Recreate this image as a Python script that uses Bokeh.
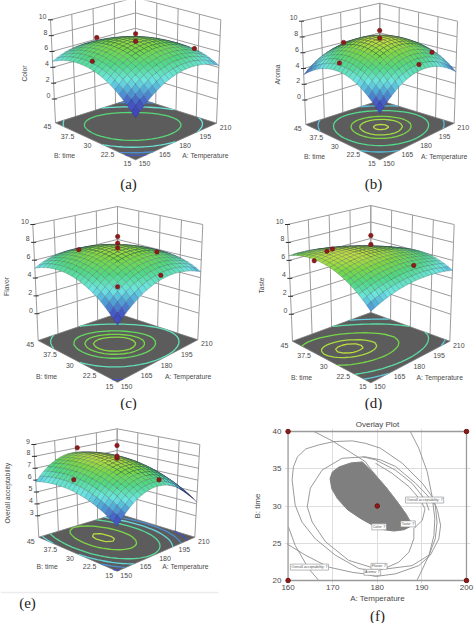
import numpy as np
from bokeh.plotting import figure
from bokeh.layouts import column, row
from bokeh.models import Range1d, ColumnDataSource, FixedTicker, Title
from bokeh.core.properties import value
from bokeh.embed import file_html
from bokeh.resources import INLINE

TEMP_TICKS = [150, 165, 180, 195, 210]
TIME_TICKS = [15, 22.5, 30, 37.5, 45]
TEMP_GRID = [150,153,156,159,162,165,168,171,174,177,180,183,186,189,192,195,198,201,204,207,210]
TIME_GRID = [15,16.5,18,19.5,21,22.5,24,25.5,27,28.5,30,31.5,33,34.5,36,37.5,39,40.5,42,43.5,45]

COLOR_Z = [
[2.00,2.53,3.02,3.46,3.86,4.21,4.52,4.79,5.01,5.19,5.33,5.42,5.46,5.46,5.42,5.34,5.21,5.03,4.82,4.56,4.25],
[2.57,3.08,3.56,3.99,4.37,4.71,5.01,5.27,5.48,5.64,5.77,5.84,5.88,5.87,5.81,5.72,5.57,5.39,5.16,4.88,4.57],
[3.09,3.59,4.05,4.47,4.84,5.17,5.46,5.70,5.90,6.05,6.16,6.23,6.25,6.22,6.16,6.05,5.89,5.69,5.45,5.17,4.84],
[3.56,4.05,4.50,4.91,5.27,5.58,5.86,6.09,6.27,6.41,6.51,6.56,6.57,6.54,6.46,6.34,6.17,5.96,5.70,5.40,5.06],
[3.99,4.47,4.91,5.30,5.65,5.95,6.21,6.43,6.60,6.73,6.82,6.86,6.85,6.80,6.71,6.58,6.40,6.18,5.91,5.60,5.24],
[4.38,4.84,5.27,5.65,5.98,6.27,6.52,6.73,6.89,7.00,7.08,7.10,7.09,7.03,6.92,6.78,6.58,6.35,6.07,5.74,5.38],
[4.72,5.17,5.58,5.95,6.27,6.55,6.79,6.98,7.13,7.23,7.29,7.31,7.28,7.20,7.09,6.93,6.72,6.47,6.18,5.85,5.47],
[5.01,5.45,5.85,6.21,6.52,6.78,7.01,7.19,7.32,7.41,7.46,7.46,7.42,7.34,7.21,7.03,6.82,6.56,6.25,5.90,5.51],
[5.26,5.69,6.08,6.42,6.72,6.97,7.18,7.35,7.47,7.55,7.59,7.58,7.52,7.42,7.28,7.10,6.87,6.59,6.28,5.91,5.51],
[5.47,5.88,6.26,6.59,6.87,7.11,7.31,7.47,7.58,7.64,7.67,7.64,7.58,7.47,7.31,7.11,6.87,6.59,6.26,5.88,5.47],
[5.63,6.03,6.39,6.71,6.98,7.21,7.40,7.54,7.64,7.69,7.70,7.67,7.59,7.46,7.30,7.09,6.83,6.53,6.19,5.81,5.38],
[5.74,6.13,6.48,6.79,7.05,7.26,7.44,7.57,7.65,7.69,7.69,7.64,7.55,7.42,7.24,7.01,6.75,6.44,6.08,5.68,5.24],
[5.81,6.19,6.53,6.82,7.07,7.27,7.43,7.56,7.62,7.65,7.64,7.58,7.47,7.32,7.13,6.90,6.62,6.30,5.93,5.52,5.06],
[5.84,6.20,6.53,6.81,7.04,7.23,7.38,7.49,7.55,7.56,7.54,7.46,7.35,7.19,6.98,6.73,6.44,6.11,5.73,5.30,4.84],
[5.82,6.17,6.48,6.75,6.97,7.16,7.29,7.39,7.43,7.43,7.39,7.31,7.18,7.00,6.79,6.53,6.22,5.87,5.48,5.05,4.57],
[5.75,6.09,6.39,6.65,6.86,7.02,7.15,7.23,7.26,7.25,7.20,7.10,6.96,6.78,6.55,6.27,5.96,5.60,5.19,4.74,4.25],
[5.64,5.97,6.26,6.51,6.70,6.85,6.96,7.03,7.05,7.03,6.97,6.86,6.70,6.50,6.26,5.98,5.65,5.27,4.86,4.40,3.89],
[5.49,5.80,6.08,6.31,6.49,6.64,6.73,6.79,6.80,6.76,6.69,6.56,6.40,6.19,5.93,5.63,5.29,4.91,4.48,4.00,3.49],
[5.29,5.59,5.85,6.07,6.24,6.37,6.46,6.50,6.50,6.45,6.36,6.23,6.05,5.82,5.56,5.25,4.89,4.49,4.05,3.57,3.04],
[5.04,5.33,5.58,5.79,5.95,6.07,6.14,6.17,6.15,6.09,5.99,5.84,5.65,5.42,5.14,4.82,4.45,4.04,3.58,3.08,2.54],
[4.75,5.03,5.27,5.46,5.61,5.72,5.77,5.79,5.76,5.69,5.58,5.42,5.21,4.96,4.67,4.34,3.96,3.53,3.07,2.56,2.00]]
AROMA_Z = [
[2.45,3.01,3.51,3.96,4.36,4.70,4.99,5.23,5.41,5.55,5.63,5.65,5.62,5.54,5.41,5.23,4.99,4.69,4.35,3.95,3.50],
[2.99,3.54,4.04,4.49,4.88,5.22,5.51,5.74,5.92,6.05,6.12,6.14,6.11,6.03,5.89,5.70,5.46,5.16,4.81,4.41,3.95],
[3.48,4.03,4.52,4.96,5.35,5.68,5.97,6.20,6.37,6.49,6.56,6.58,6.55,6.46,6.31,6.12,5.87,5.57,5.22,4.81,4.35],
[3.91,4.46,4.95,5.38,5.77,6.10,6.37,6.60,6.77,6.89,6.95,6.97,6.93,6.83,6.69,6.49,6.23,5.93,5.57,5.16,4.69],
[4.30,4.83,5.32,5.75,6.13,6.46,6.73,6.95,7.12,7.23,7.29,7.30,7.25,7.16,7.01,6.80,6.54,6.23,5.87,5.46,4.99],
[4.63,5.16,5.64,6.07,6.44,6.76,7.03,7.25,7.41,7.52,7.58,7.58,7.53,7.43,7.27,7.06,6.80,6.49,6.12,5.70,5.23],
[4.90,5.43,5.91,6.33,6.70,7.02,7.28,7.49,7.65,7.75,7.81,7.81,7.75,7.64,7.48,7.27,7.01,6.69,6.31,5.89,5.41],
[5.12,5.65,6.12,6.54,6.90,7.22,7.48,7.68,7.84,7.94,7.98,7.98,7.92,7.81,7.64,7.43,7.16,6.83,6.46,6.03,5.54],
[5.29,5.81,6.28,6.70,7.06,7.36,7.62,7.82,7.97,8.07,8.11,8.10,8.04,7.92,7.75,7.53,7.25,6.93,6.55,6.11,5.62],
[5.41,5.93,6.39,6.80,7.16,7.46,7.71,7.91,8.05,8.14,8.18,8.17,8.10,7.98,7.80,7.58,7.30,6.97,6.58,6.14,5.65],
[5.48,5.97,6.44,6.85,7.20,7.50,7.75,7.94,8.08,8.17,8.20,8.18,8.11,7.98,7.81,7.58,7.29,6.95,6.56,6.12,5.63],
[5.49,5.99,6.45,6.85,7.19,7.49,7.73,7.92,8.05,8.14,8.17,8.14,8.07,7.94,7.75,7.52,7.23,6.89,6.49,6.05,5.55],
[5.44,5.95,6.40,6.79,7.13,7.42,7.66,7.85,7.98,8.05,8.08,8.05,7.97,7.84,7.65,7.41,7.12,6.77,6.37,5.92,5.41],
[5.35,5.85,6.29,6.68,7.02,7.31,7.54,7.72,7.85,7.92,7.94,7.91,7.82,7.68,7.49,7.25,6.95,6.60,6.20,5.74,5.23],
[5.20,5.69,6.13,6.52,6.86,7.14,7.36,7.54,7.66,7.73,7.75,7.71,7.62,7.48,7.28,7.03,6.73,6.37,5.97,5.50,4.99],
[5.00,5.49,5.92,6.31,6.64,6.91,7.14,7.31,7.42,7.49,7.50,7.46,7.36,7.22,7.02,6.76,6.46,6.10,5.68,5.22,4.70],
[4.75,5.23,5.66,6.04,6.36,6.64,6.86,7.02,7.13,7.19,7.20,7.16,7.06,6.91,6.70,6.44,6.13,5.77,5.35,4.88,4.36],
[4.44,4.92,5.35,5.72,6.04,6.31,6.52,6.68,6.79,6.85,6.85,6.80,6.70,6.54,6.33,6.07,5.75,5.38,4.96,4.49,3.96],
[4.08,4.55,4.98,5.35,5.66,5.92,6.13,6.29,6.40,6.45,6.44,6.39,6.28,6.12,5.91,5.64,5.32,4.95,4.52,4.04,3.51],
[3.67,4.14,4.55,4.92,5.23,5.49,5.69,5.85,5.95,5.99,5.99,5.93,5.81,5.65,5.43,5.16,4.83,4.46,4.03,3.54,3.01],
[3.20,3.67,4.08,4.44,4.75,5.00,5.20,5.35,5.44,5.49,5.48,5.41,5.29,5.12,4.90,4.63,4.30,3.91,3.48,2.99,2.45]]
FLAVOR_Z = [
[3.01,3.45,3.86,4.23,4.56,4.85,5.10,5.32,5.50,5.64,5.74,5.80,5.83,5.82,5.77,5.68,5.55,5.39,5.19,4.95,4.67],
[3.48,3.91,4.31,4.67,4.99,5.27,5.51,5.72,5.89,6.02,6.11,6.17,6.18,6.16,6.10,6.01,5.87,5.70,5.49,5.24,4.95],
[3.90,4.33,4.72,5.07,5.38,5.65,5.89,6.08,6.24,6.36,6.45,6.49,6.50,6.47,6.40,6.29,6.15,5.97,5.74,5.48,5.19],
[4.29,4.71,5.09,5.43,5.73,5.99,6.22,6.41,6.56,6.67,6.74,6.78,6.78,6.74,6.66,6.54,6.39,6.19,5.96,5.70,5.39],
[4.65,5.05,5.42,5.75,6.04,6.30,6.51,6.69,6.83,6.94,7.00,7.03,7.02,6.97,6.88,6.75,6.59,6.39,6.15,5.87,5.55],
[4.96,5.36,5.72,6.04,6.32,6.57,6.77,6.94,7.07,7.17,7.22,7.24,7.22,7.16,7.06,6.92,6.75,6.54,6.29,6.00,5.68],
[5.24,5.62,5.97,6.29,6.56,6.79,6.99,7.15,7.27,7.36,7.40,7.41,7.38,7.31,7.20,7.06,6.88,6.66,6.40,6.10,5.77],
[5.47,5.85,6.19,6.50,6.76,6.99,7.17,7.32,7.44,7.51,7.55,7.54,7.50,7.43,7.31,7.16,6.97,6.73,6.47,6.16,5.82],
[5.67,6.04,6.37,6.67,6.92,7.14,7.32,7.46,7.56,7.63,7.65,7.63,7.59,7.50,7.38,7.22,7.02,6.78,6.50,6.18,5.83],
[5.84,6.20,6.52,6.80,7.05,7.25,7.42,7.55,7.65,7.70,7.72,7.70,7.64,7.54,7.41,7.24,7.03,6.78,6.49,6.17,5.80],
[5.96,6.31,6.62,6.90,7.13,7.33,7.49,7.61,7.70,7.74,7.75,7.72,7.65,7.55,7.40,7.22,7.00,6.74,6.45,6.11,5.74],
[6.05,6.39,6.69,6.95,7.18,7.37,7.52,7.63,7.71,7.74,7.74,7.70,7.63,7.52,7.36,7.17,6.94,6.67,6.36,6.02,5.64],
[6.09,6.43,6.72,6.97,7.19,7.37,7.51,7.61,7.68,7.71,7.70,7.65,7.56,7.44,7.27,7.07,6.83,6.56,6.24,5.89,5.50],
[6.10,6.43,6.71,6.96,7.16,7.33,7.47,7.56,7.61,7.63,7.61,7.55,7.46,7.32,7.15,6.94,6.69,6.41,6.08,5.72,5.32],
[6.08,6.39,6.66,6.90,7.10,7.26,7.38,7.47,7.51,7.52,7.49,7.42,7.32,7.17,6.99,6.77,6.51,6.22,5.89,5.51,5.10],
[6.01,6.31,6.58,6.81,7.00,7.15,7.26,7.33,7.37,7.37,7.33,7.25,7.14,6.99,6.79,6.57,6.30,5.99,5.65,5.27,4.85],
[5.91,6.20,6.46,6.67,6.85,6.99,7.10,7.16,7.19,7.18,7.13,7.05,6.92,6.76,6.56,6.32,6.04,5.73,5.38,4.99,4.56],
[5.76,6.05,6.29,6.50,6.67,6.81,6.90,6.96,6.97,6.95,6.90,6.80,6.67,6.49,6.28,6.04,5.75,5.43,5.07,4.67,4.23],
[5.58,5.86,6.10,6.29,6.46,6.58,6.66,6.71,6.72,6.69,6.62,6.52,6.37,6.19,5.97,5.72,5.42,5.09,4.72,4.31,3.86],
[5.37,5.63,5.86,6.05,6.20,6.31,6.39,6.43,6.43,6.39,6.31,6.20,6.04,5.85,5.62,5.36,5.05,4.71,4.33,3.91,3.45],
[5.11,5.36,5.58,5.76,5.91,6.01,6.08,6.10,6.09,6.05,5.96,5.84,5.67,5.47,5.24,4.96,4.65,4.29,3.90,3.48,3.01]]
TASTE_Z = [
[4.48,4.67,4.85,5.00,5.14,5.26,5.36,5.45,5.51,5.56,5.59,5.60,5.60,5.57,5.53,5.47,5.39,5.29,5.18,5.05,4.90],
[4.91,5.09,5.26,5.40,5.53,5.65,5.74,5.82,5.87,5.91,5.94,5.94,5.93,5.89,5.84,5.77,5.69,5.58,5.46,5.32,5.16],
[5.30,5.48,5.63,5.77,5.89,6.00,6.08,6.15,6.20,6.23,6.25,6.24,6.22,6.18,6.12,6.05,5.95,5.84,5.71,5.56,5.40],
[5.66,5.82,5.97,6.11,6.22,6.32,6.39,6.45,6.49,6.52,6.52,6.51,6.48,6.43,6.37,6.28,6.18,6.06,5.92,5.77,5.59],
[5.98,6.14,6.28,6.41,6.51,6.60,6.67,6.72,6.75,6.77,6.77,6.75,6.71,6.65,6.58,6.49,6.38,6.25,6.10,5.94,5.76],
[6.27,6.42,6.56,6.67,6.77,6.85,6.91,6.95,6.98,6.99,6.98,6.95,6.90,6.84,6.76,6.66,6.54,6.40,6.25,6.08,5.89],
[6.52,6.67,6.79,6.90,6.99,7.06,7.12,7.15,7.17,7.17,7.15,7.12,7.06,6.99,6.90,6.79,6.66,6.52,6.36,6.18,5.98],
[6.75,6.88,7.00,7.10,7.18,7.25,7.29,7.32,7.33,7.32,7.29,7.25,7.19,7.11,7.01,6.89,6.76,6.61,6.44,6.25,6.04],
[6.93,7.06,7.17,7.26,7.34,7.39,7.43,7.45,7.45,7.44,7.40,7.35,7.28,7.19,7.08,6.96,6.82,6.66,6.48,6.28,6.07],
[7.09,7.21,7.31,7.39,7.46,7.51,7.54,7.55,7.54,7.52,7.48,7.41,7.34,7.24,7.13,7.00,6.84,6.68,6.49,6.29,6.06],
[7.21,7.32,7.41,7.49,7.55,7.59,7.61,7.61,7.60,7.56,7.51,7.45,7.36,7.26,7.13,6.99,6.84,6.66,6.46,6.25,6.02],
[7.29,7.40,7.48,7.55,7.60,7.63,7.64,7.64,7.62,7.58,7.52,7.44,7.35,7.24,7.11,6.96,6.79,6.61,6.41,6.19,5.95],
[7.34,7.44,7.52,7.58,7.62,7.64,7.65,7.64,7.61,7.56,7.49,7.41,7.31,7.20,7.05,6.89,6.72,6.52,6.31,6.09,5.84],
[7.36,7.45,7.52,7.57,7.60,7.62,7.62,7.60,7.56,7.50,7.43,7.34,7.23,7.10,6.95,6.79,6.60,6.40,6.19,5.95,5.70],
[7.34,7.42,7.49,7.53,7.56,7.56,7.55,7.53,7.48,7.41,7.33,7.23,7.11,6.98,6.82,6.65,6.46,6.25,6.03,5.78,5.52],
[7.29,7.37,7.42,7.45,7.47,7.47,7.45,7.42,7.36,7.29,7.20,7.09,6.97,6.82,6.66,6.48,6.28,6.07,5.83,5.58,5.31],
[7.21,7.27,7.32,7.35,7.36,7.35,7.32,7.28,7.21,7.13,7.04,6.92,6.79,6.63,6.46,6.28,6.07,5.84,5.60,5.34,5.06],
[7.09,7.15,7.18,7.20,7.21,7.19,7.16,7.10,7.03,6.94,6.84,6.71,6.57,6.41,6.23,6.04,5.82,5.59,5.34,5.07,4.79],
[6.94,6.99,7.02,7.03,7.02,7.00,6.95,6.89,6.82,6.72,6.61,6.47,6.32,6.15,5.97,5.76,5.54,5.30,5.04,4.77,4.47],
[6.75,6.79,6.81,6.82,6.80,6.77,6.72,6.65,6.57,6.46,6.34,6.20,6.04,5.86,5.67,5.46,5.23,4.98,4.71,4.43,4.13],
[6.53,6.56,6.58,6.57,6.55,6.51,6.45,6.38,6.28,6.17,6.04,5.89,5.72,5.54,5.34,5.12,4.88,4.62,4.35,4.05,3.75]]
OVERALL_Z = [
[4.78,5.18,5.54,5.86,6.13,6.35,6.52,6.65,6.74,6.78,6.77,6.71,6.61,6.47,6.28,6.04,5.75,5.42,5.05,4.63,4.16],
[5.00,5.40,5.76,6.08,6.34,6.56,6.74,6.87,6.95,6.99,6.98,6.92,6.82,6.67,6.48,6.24,5.96,5.62,5.25,4.82,4.36],
[5.20,5.61,5.97,6.28,6.54,6.76,6.94,7.06,7.15,7.18,7.17,7.11,7.01,6.86,6.67,6.43,6.14,5.81,5.43,5.00,4.54],
[5.39,5.79,6.15,6.46,6.72,6.94,7.11,7.24,7.32,7.36,7.34,7.29,7.18,7.03,6.84,6.60,6.31,5.98,5.60,5.17,4.70],
[5.56,5.96,6.32,6.63,6.89,7.11,7.28,7.40,7.48,7.51,7.50,7.44,7.34,7.19,6.99,6.75,6.46,6.12,5.74,5.31,4.84],
[5.71,6.11,6.47,6.77,7.04,7.25,7.42,7.55,7.62,7.66,7.64,7.58,7.47,7.32,7.12,6.88,6.59,6.24,5.87,5.44,4.97],
[5.85,6.24,6.60,6.90,7.16,7.38,7.55,7.67,7.75,7.78,7.76,7.70,7.59,7.44,7.24,6.99,6.71,6.37,5.98,5.56,5.08],
[5.96,6.36,6.71,7.02,7.28,7.49,7.66,7.78,7.86,7.88,7.87,7.81,7.69,7.54,7.34,7.10,6.80,6.46,6.08,5.65,5.17],
[6.06,6.46,6.81,7.11,7.37,7.58,7.74,7.87,7.94,7.97,7.95,7.89,7.78,7.62,7.42,7.18,6.88,6.54,6.16,5.72,5.25],
[6.14,6.54,6.89,7.19,7.45,7.66,7.82,7.94,8.02,8.04,8.02,7.96,7.85,7.69,7.49,7.24,6.94,6.60,6.22,5.78,5.31],
[6.21,6.60,6.95,7.25,7.51,7.72,7.88,8.00,8.07,8.10,8.08,8.01,7.90,7.74,7.54,7.29,6.99,6.65,6.26,5.83,5.35],
[6.25,6.64,6.99,7.29,7.55,7.76,7.92,8.04,8.11,8.13,8.11,8.04,7.93,7.77,7.57,7.31,7.02,6.67,6.28,5.85,5.37],
[6.28,6.67,7.02,7.32,7.57,7.78,7.94,8.06,8.12,8.15,8.13,8.06,7.94,7.78,7.58,7.32,7.03,6.68,6.29,5.85,5.37],
[6.29,6.68,7.03,7.32,7.58,7.78,7.94,8.06,8.13,8.15,8.12,8.05,7.94,7.78,7.57,7.32,7.02,6.67,6.28,5.84,5.36],
[6.28,6.67,7.02,7.31,7.56,7.77,7.93,8.04,8.11,8.13,8.11,8.03,7.92,7.75,7.55,7.29,6.99,6.64,6.25,5.81,5.33],
[6.26,6.65,6.99,7.28,7.53,7.74,7.90,8.01,8.07,8.10,8.07,8.00,7.88,7.72,7.51,7.25,6.95,6.60,6.21,5.77,5.28],
[6.22,6.60,6.95,7.24,7.49,7.69,7.85,7.96,8.02,8.04,8.02,7.94,7.82,7.66,7.45,7.19,6.89,6.54,6.14,5.70,5.21],
[6.16,6.54,6.88,7.18,7.42,7.62,7.78,7.89,7.95,7.97,7.94,7.87,7.75,7.58,7.37,7.11,6.81,6.46,6.06,5.62,5.13],
[6.08,6.46,6.80,7.09,7.34,7.54,7.70,7.80,7.87,7.88,7.85,7.78,7.66,7.49,7.28,7.02,6.71,6.36,5.96,5.52,5.03],
[5.99,6.37,6.71,7.00,7.24,7.44,7.59,7.70,7.76,7.78,7.75,7.67,7.55,7.38,7.17,6.90,6.60,6.24,5.84,5.40,4.91],
[5.87,6.25,6.59,6.88,7.12,7.32,7.48,7.58,7.64,7.66,7.62,7.54,7.42,7.25,7.04,6.77,6.47,6.11,5.71,5.27,4.77]]

COLOR_PTS = ([164.4,166.2,180,180,201],[37.8,36.9,30,30,19.5],[5.0,8.0,8.53,7.6,6.54])
AROMA_PTS = ([166,164.2,180,180,195.4,200.4],[37,37.9,30,30,22.3,19.8],[7.6,4.96,9.2,8.23,4.74,6.24])
FLAVOR_PTS = ([166,180,180,180,194,195.6,160],[36.9,30,30,30,23,22.2,20],[7.53,9.1,8.36,7.8,7.27,4.6,5.8])
TASTE_PTS = ([164,166,180,180,195.8,159.3],[38,37,30,30,22.2,40.4],[7.32,7.59,9.2,8.19,5.72,6.17])
OVERALL_PTS = ([165.7,164.1,180,180,180,195.5],[37.2,38,30,30,30,22.2],[8.94,6.22,9.2,8.12,8.29,6.22])

COLOR_LEVELS = [3.3,4.0,5.3,6.55]
AROMA_LEVELS = [4.7,6.2,7.4,7.8,8.15]
FLAVOR_LEVELS = [3.6,5.9,7.0,7.35,7.55]
TASTE_LEVELS = [5.2,6.0,7.0,7.45,7.6]
OVERALL_LEVELS = [5.0,5.6,6.2,6.85,7.7,8.1]

Z_TICKS_10 = [0,2,4,6,8,10]
Z_TICKS_9 = [3,4,5,6,7,8,9]

GRAY_A = [176.67,179.29,181.91,184.52,186.39,187.89,186.02,183.78,181.53,179.29,176.3,173.31,171.07,169.79,169.42,169.94,171.44,174.06]
GRAY_B = [35.92,34.35,32.56,30.54,28.97,27.4,26.82,26.64,26.82,27.31,28.3,29.51,30.99,32.33,33.68,34.57,35.25,35.78]
CURVES_A = [
 [159.8,163.9,169.1,174.4,177.0,179.6,184.1,189.3,191.9,193.8,194.2,193.5,192.3,190.1,185.6,180.7,177.4,174.4,170.3,166.9,164.0,162.1,161.2,160.9,161.6,163.1,166.1,170.6,175.9,179.6,181.8,184.8,187.1,188.2,188.2,190.1,190.7,189.7,187.1,183.3,179.6],
 [164.3,165.0,167.6,172.1,177.3,180.7,184.1,188.6,191.9,193.0,193.4,193.0,191.6,187.8,182.6,178.5,173.6,168.4,165.4,164.3],
 [187.4,189.3,191.2,192.3,192.9,192.7,191.6,188.9],
 [165.8,169.9,177.3,179.3,181.9,184.5,186.4,187.9],
 [160.1,161.6,164.6,166.9],
 [176.7,179.6,184.1,187.8,190.8,191.6]]
CURVES_B = [
 [24.9,23.4,21.8,21.1,20.9,20.54,20.9,22.0,23.4,25.6,27.4,29.42,31.26,33.05,35.74,37.76,38.4,38.74,38.65,38.2,37.67,36.6,35.25,33.5,30.1,27.85,25.6,23.4,21.6,21.3,21.66,22.46,23.8,25.6,26.95,28.1,29.6,30.8,32.6,34.4,35.74],
 [29.9,32.4,34.8,36.4,36.6,36.2,35.3,33.05,31.0,30.1,27.85,25.6,23.4,22.0,21.6,21.8,22.7,25.2,27.85,29.9],
 [40,37.76,34.6,31.26,28.3,26.05,23.4,20],
 [40,38.74,35.96,34.35,32.56,30.54,28.97,27.4],
 [27.17,24.7,21.6,20],
 [36.6,36.2,34.8,33.05,30.8,29.4]]
DESIGN_A = [160,200,160,200,180]
DESIGN_B = [40,40,20,20,30]
LABEL_TEXT = ["Overall acceptability: 7","Taste: 7","Color: 7","Flavor: 7","Aroma: 7","Overall acceptability: 7"]
LABEL_A = [190.6,186.9,180.4,180.4,178.9,164.8]
LABEL_B = [30.8,27.6,27.2,21.9,21.1,21.8]

STOPS = [(0.0,(62,58,178)),(0.2,(70,90,195)),(0.36,(80,170,215)),(0.48,(110,230,225)),(0.66,(80,215,130)),(0.82,(120,215,70)),(1.0,(225,225,60))]
def cmap(t):
    t = min(1.0, max(0.0, t))
    for (t0,c0),(t1,c1) in zip(STOPS, STOPS[1:]):
        if t <= t1:
            f = (t-t0)/(t1-t0)
            return "#%02x%02x%02x" % tuple(int(round(a+(b-a)*f)) for a,b in zip(c0,c1))
    return "#e1e13c"

SANS = value("Liberation Sans")
SERIF = value("Liberation Serif")
TXT = "#4a4a4a"

def new_fig(w, h, xr, yr):
    p = figure(width=w, height=h, x_range=Range1d(*xr), y_range=Range1d(*yr),
               x_axis_type=None, y_axis_type=None, toolbar_location=None,
               output_backend="svg", min_border=0, outline_line_color=None,
               background_fill_color="white", border_fill_color="white", frame_align=False)
    p.grid.visible = False
    return p

def surface_panel(w, h, xr, yr, F, R, L, K, TF, TR, TL, TK, zfloor, zmax, ztop_ticks, table, pts, levels, zlo, zhi, zname, zpos, bpos, apos, tag, tagpos):
    p = new_fig(w, h, xr, yr)
    def proj(a, b, z):
        a, b, z = np.asarray(a, float), np.asarray(b, float), np.asarray(z, float)
        u = (a-150)/60; v = (b-15)/30; s = (z-zfloor)/(zmax-zfloor)
        out = []
        for i in (0, 1):
            bot = (1-u)*(1-v)*F[i]+u*(1-v)*R[i]+(1-u)*v*L[i]+u*v*K[i]
            top = (1-u)*(1-v)*TF[i]+u*(1-v)*TR[i]+(1-u)*v*TL[i]+u*v*TK[i]
            out.append(bot+(top-bot)*s)
        return out
    wx, wy = [], []
    for z in ztop_ticks:
        x, y = proj([150,210,210],[45,45,15],[z,z,z]); wx.append(list(x)); wy.append(list(y))
    for a in TEMP_TICKS:
        x, y = proj([a,a],[45,45],[zfloor,zmax]); wx.append(list(x)); wy.append(list(y))
    for b in TIME_TICKS:
        x, y = proj([210,210],[b,b],[zfloor,zmax]); wx.append(list(x)); wy.append(list(y))
    p.multi_line(wx, wy, line_color="#9c9c9c", line_width=1)
    tx, ty = proj([150]*len(ztop_ticks),[45]*len(ztop_ticks),ztop_ticks)
    p.scatter(tx, ty, marker="dash", size=5, line_color="#333333")
    fx, fy = proj([150,210,210,150],[15,15,45,45],[zfloor]*4)
    p.patch(fx, fy, fill_color="#5c5c5c", line_color="#777777", line_width=0.8)
    A, B = np.meshgrid(TEMP_GRID, TIME_GRID)
    Z = np.array(table)
    gx, gy = proj(A, B, np.full(A.shape, zfloor))
    p.contour(gx, gy, Z, levels, line_color=[cmap((l-zlo)/(zhi-zlo)) for l in levels], line_width=1.3)
    X, Y = proj(A, B, Z)
    xs, ys, cols, depth = [], [], [], []
    for j in range(Z.shape[0]-1):
        for i in range(Z.shape[1]-1):
            qx = [X[j,i],X[j,i+1],X[j+1,i+1],X[j+1,i]]
            qy = [Y[j,i],Y[j,i+1],Y[j+1,i+1],Y[j+1,i]]
            area = sum(qx[k]*qy[(k+1)%4]-qx[(k+1)%4]*qy[k] for k in range(4))
            m = (Z[j,i]+Z[j,i+1]+Z[j+1,i+1]+Z[j+1,i])/4
            xs.append(qx); ys.append(qy); depth.append(i+j)
            cols.append("#1d1f6e" if area > 0 else cmap((m-zlo)/(zhi-zlo)))
    order = np.argsort(-np.array(depth), kind="stable")
    src = ColumnDataSource(dict(xs=[xs[k] for k in order], ys=[ys[k] for k in order], c=[cols[k] for k in order]))
    p.patches("xs", "ys", source=src, fill_color="c", line_color="#1f2a44", line_alpha=0.38, line_width=0.5)
    px, py = proj(*pts)
    p.scatter(px, py, size=4.5, fill_color="#8c1c1c", line_color="#6a1010", line_width=0.5)
    ax, ay = proj(TEMP_TICKS,[15]*5,[zfloor]*5)
    kw = dict(text_font=SANS, text_font_size="7px", text_color=TXT, text_baseline="middle")
    p.text(ax, ay, text=[str(t) for t in TEMP_TICKS], x_offset=9, y_offset=4, text_align="center", **kw)
    bx, by = proj([150]*5,TIME_TICKS,[zfloor]*5)
    p.text(bx, by, text=[f"{t:g}" for t in TIME_TICKS], x_offset=-8, y_offset=4, text_align="center", **kw)
    p.text(tx, ty, text=[str(t) for t in ztop_ticks], x_offset=-4, y_offset=-3.5, text_align="right", **kw)
    lab = dict(kw, text_font_size="6.8px")
    p.text([bpos[0]],[bpos[1]],text=["B: time"],text_align="center",**lab)
    p.text([apos[0]],[apos[1]],text=["A: Temperature"],text_align="center",**lab)
    p.text([zpos[0]],[zpos[1]],text=[zname],angle=np.pi/2,text_align="center",**lab)
    p.text([tagpos[0]],[tagpos[1]],text=[tag],text_font=SERIF,text_font_size="15px",text_color="#222222",text_align="center",text_baseline="middle")
    return p

W1, W2 = 237, 237
H1, H2, H3 = 200, 210, 213
pa = surface_panel(W1,H1,(0,237),(200,0),(135,159.3),(216,122.7),(55,122.3),(135,97),(135,51),(220.3,19.3),(50,19.3),(135,-3),-3,10,Z_TICKS_10,COLOR_Z,COLOR_PTS,COLOR_LEVELS,2,8.6,"Color",(24,73),(64,155),(205,155),"(a)",(128,183))
pb = surface_panel(W2,H1,(237,474),(200,0),(379.3,159.3),(453.7,122.7),(305.3,124),(379.3,100),(379.3,51),(457,20.7),(301,20.7),(379.3,2.7),-3.1,10,Z_TICKS_10,AROMA_Z,AROMA_PTS,AROMA_LEVELS,2.2,8.5,"Aroma",(277,74),(314,156),(443.7,156),"(b)",(373,183))
pc = surface_panel(W1,H2,(0,237),(410,200),(117,381.7),(197.3,339.3),(37.7,340),(117,313),(117,258.3),(202.3,224),(32.3,224),(117,206),-3,10,Z_TICKS_10,FLAVOR_Z,FLAVOR_PTS,FLAVOR_LEVELS,2.8,8.4,"Flavor",(6,286),(46,375.7),(187.7,375.7),"(c)",(128,402))
pd_ = surface_panel(W2,H2,(237,474),(410,200),(370.3,382.3),(449.3,340.7),(292,340.7),(370.3,312),(370.3,258.3),(453.7,224),(287,224),(370.3,205),-3,10,Z_TICKS_10,TASTE_Z,TASTE_PTS,TASTE_LEVELS,3.2,7.9,"Taste",(261.3,285),(301,377),(439.3,377),"(d)",(373,402))
pe = surface_panel(W1,H3,(0,237),(623,410),(116.7,570.7),(194.3,536.7),(38.3,536.7),(116.7,513),(116.7,473),(199.3,444),(33.3,444),(116.7,428.3),1.2,9,Z_TICKS_9,OVERALL_Z,OVERALL_PTS,OVERALL_LEVELS,4.4,8.4,"Overall acceptability",(7.3,492.7),(46.7,566),(185,566),"(e)",(27,602))
pe.line([0,218],[592,592],line_color="#ececec",line_width=1.5)

pf = figure(width=W2, height=H3, x_range=Range1d(159.2,200.9), y_range=Range1d(19.6,40.4),
            toolbar_location=None, output_backend="svg", outline_line_color=None, frame_align=False,
            min_border_left=47, min_border_right=4, min_border_top=18, min_border_bottom=40,
            x_axis_label="A: Temperature", y_axis_label="B: time",
            title="Overlay Plot", title_location="above")
pf.title.align = "center"; pf.title.text_font = "Liberation Sans"; pf.title.text_font_size = "8px"
pf.title.text_font_style = "normal"; pf.title.text_color = "#444444"; pf.title.standoff = 0
for ax in (pf.xaxis[0], pf.yaxis[0]):
    ax.axis_line_color = None; ax.major_tick_line_color = None; ax.minor_tick_line_color = None
    ax.major_tick_out = 0; ax.major_tick_in = 0; ax.minor_tick_out = 0; ax.minor_tick_in = 0
    ax.major_label_text_font = "Liberation Sans"; ax.major_label_text_font_size = "8px"; ax.major_label_text_color = TXT
    ax.axis_label_text_font = "Liberation Sans"; ax.axis_label_text_font_size = "8px"; ax.axis_label_text_color = TXT
    ax.axis_label_text_font_style = "normal"
pf.yaxis[0].major_label_standoff = 3; pf.yaxis[0].axis_label_standoff = 8
pf.xaxis[0].major_label_standoff = 1; pf.xaxis[0].axis_label_standoff = 1
pf.xaxis[0].ticker = FixedTicker(ticks=[160,170,180,190,200])
pf.yaxis[0].ticker = FixedTicker(ticks=[20,25,30,35,40])
pf.xgrid[0].ticker = FixedTicker(ticks=[170,180,190]); pf.ygrid[0].ticker = FixedTicker(ticks=[25,30,35])
pf.xgrid[0].bounds = (20,40); pf.ygrid[0].bounds = (160,200)
pf.grid.grid_line_color = "#dddddd"; pf.grid.grid_line_width = 1
pf.patch(GRAY_A, GRAY_B, fill_color="#7f7f7f", line_color="#7f7f7f")
pf.multi_line(CURVES_A, CURVES_B, line_color="#8f8f8f", line_width=0.9)
pf.line([160,200,200,160,160],[20,20,40,40,20], line_color="#9a9a9a", line_width=1.3)
pf.scatter(DESIGN_A, DESIGN_B, size=4.5, fill_color="#8c1c1c", line_color="#6a1010")
pf.text(LABEL_A, LABEL_B, text=LABEL_TEXT, text_font=SANS, text_font_size="3.6px", text_color="#555555",
        text_align="center", text_baseline="middle", background_fill_color="white",
        border_line_color="#8a8a8a", border_line_width=0.6, padding=1)
pf.add_layout(Title(text="(f)", text_font="Liberation Serif", text_font_size="15px", text_font_style="normal",
                    text_color="#222222", align="center", standoff=0, offset=-4), "below")

layout = column(row(pa,pb,spacing=0),row(pc,pd_,spacing=0),row(pe,pf,spacing=0),spacing=0)
open("out.html","w").write(file_html(layout, INLINE))
